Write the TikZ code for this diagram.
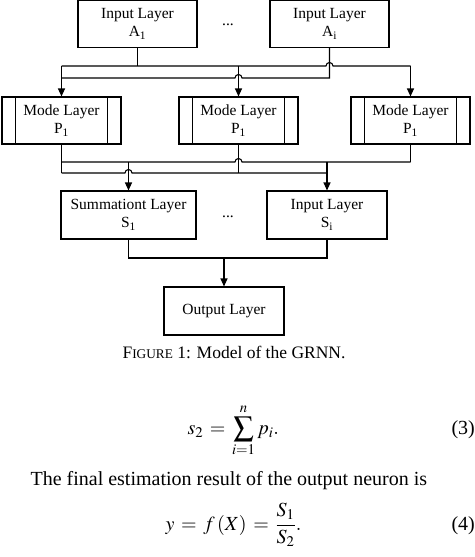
\documentclass[tikz,border=0pt]{standalone}
\usepackage{mathptmx}
\usepackage{fontspec}
\setmainfont{Liberation Serif}
\usetikzlibrary{arrows.meta,calc}
\begin{document}
\begin{tikzpicture}[x=1pt,y=-1pt,
  line width=1.1pt,
  box/.style={draw,rectangle,inner sep=0pt,minimum width=119pt,minimum height=47pt,align=center,
    font=\fontsize{15.5}{18}\selectfont},
  arr/.style={-{Triangle[length=8pt,width=7pt]}},
  big/.style={font=\fontsize{20}{24}\selectfont}]
\useasboundingbox (0,0) rectangle (474,557);
% top layer
\node[box] (A1) at (137.5,24) {Input Layer\\A\textsubscript{1}};
\node[box] (Ai) at (329.5,24) {Input Layer\\A\textsubscript{i}};
\node[font=\fontsize{15.5}{18}\selectfont] (d1) at (228,25) {...};
% mode layer
\node[box] (PL) at (61.5,120.5) {Mode Layer\\P\textsubscript{1}};
\node[box] (PM) at (238.5,120.5) {Mode Layer\\P\textsubscript{1}};
\node[box] (PR) at (410.5,120.5) {Mode Layer\\P\textsubscript{1}};
\foreach \n in {PL,PM,PR}{
  \draw ([xshift=14pt]\n.north west) -- ([xshift=14pt]\n.south west);
  \draw ([xshift=-14pt]\n.north east) -- ([xshift=-14pt]\n.south east);
}
% summation layer
\node[box,minimum width=135pt,minimum height=48pt] (S1) at (128.5,215) {Summationt Layer\\S\textsubscript{1}};
\node[box,minimum width=120pt,minimum height=48pt] (Si) at (327,215) {Input Layer\\S\textsubscript{i}};
\node[font=\fontsize{15.5}{18}\selectfont] (d2) at (228,217) {...};
% output
\node[box,minimum width=120pt,minimum height=48pt] (Out) at (224,311) {Output Layer};
% levels
\coordinate (h1) at (0,66);
\coordinate (h2) at (0,78);
\coordinate (h3) at (0,162);
\coordinate (h4) at (0,173);
\coordinate (h5) at (0,258);
% A1 connections
\draw (A1.south) -- (A1.south |- h1);
\draw (PL.north |- h1) -- ($(Ai.south |- h1)+(-3.5,0)$) arc[start angle=180,end angle=360,radius=3.5] -- (PR.north |- h1);
% Ai connections
\draw (Ai.south) -- (Ai.south |- h2) -- ($(PM.north |- h2)+(3.5,0)$) arc[start angle=0,end angle=-180,radius=3.5] -- (PL.north |- h2);
% arrows to mode layer
\draw[arr] (PL.north |- h1) -- (PL.north);
\draw[arr] (PM.north |- h1) -- (PM.north);
\draw[arr] (PR.north |- h1) -- (PR.north);
% mode to summation
\draw (PL.south) -- (PL.south |- h4);
\draw (PM.south) -- (PM.south |- h4);
\draw (PR.south) -- (PR.south |- h3);
\draw (PL.south |- h3) -- ($(PM.south |- h3)+(-3.5,0)$) arc[start angle=180,end angle=360,radius=3.5] -- (PR.south |- h3);
\draw (PL.south |- h4) -- ($(S1.north |- h4)+(-3.5,0)$) arc[start angle=180,end angle=360,radius=3.5] -- (Si.north |- h4);
\draw[arr] (S1.north |- h3) -- (S1.north);
\draw[arr] (Si.north |- h3) -- (Si.north);
% summation to output
\draw (S1.south) -- (S1.south |- h5) -- (Si.south |- h5) -- (Si.south);
\draw[arr] (Out.north |- h5) -- (Out.north);
% caption
\node[font=\fontsize{17.5}{20}\selectfont] (cap) at (234,352) {F{\fontsize{13.3}{15}\selectfont IGURE} 1: Model of the GRNN.};
% equations
\node[anchor=base west,big,inner sep=0pt] (eq3) at (187,434) {$\displaystyle s_2 \,=\, \sum_{i=1}^{n} p_i.$};
\node[anchor=base west,big,inner sep=0pt] (n3) at (451,434) {(3)};
\node[anchor=base west,big,inner sep=0pt] (txt) at (30,485) {The final estimation result of the output neuron is};
\node[anchor=base west,big,inner sep=0pt] (eq4) at (165,530) {$\displaystyle y \,=\, f\,(X) \,=\, \frac{S_1}{S_2}.$};
\node[anchor=base west,big,inner sep=0pt] (n4) at (451,530) {(4)};
\end{tikzpicture}
\end{document}
